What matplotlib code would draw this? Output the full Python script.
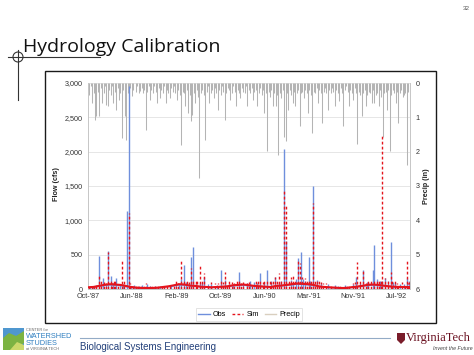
import numpy as np
import pandas as pd
import matplotlib
matplotlib.use('Agg')
import matplotlib.pyplot as plt
from matplotlib.lines import Line2D
from matplotlib.patches import Rectangle, Ellipse, Polygon

# ---------------- data ----------------
start = pd.Timestamp('1987-10-01')
x_tick_days = [0, 250, 500, 750, 1000, 1250, 1500, 1750]
x_tick_labels = ["Oct-'87", "Jun-'88", "Feb-'89", "Oct-'89", "Jun-'90",
                 "Mar-'91", "Nov-'91", "Jul-'92"]
flow_ticks = [0, 500, 1000, 1500, 2000, 2500, 3000]
precip_ticks = [0, 1, 2, 3, 4, 5, 6]

# monthly base flow (cfs), Oct-87 .. Oct-92
obs_base = [20, 25, 40, 50, 60, 55, 50, 35, 25, 15, 12, 12,
            12, 15, 25, 35, 45, 60, 55, 45, 40, 30, 25, 20,
            25, 30, 35, 45, 50, 55, 45, 40, 35, 30, 25, 40,
            45, 55, 60, 70, 65, 60, 50, 35, 25, 20, 15, 12,
            12, 20, 30, 40, 50, 55, 50, 45, 35, 30, 25, 25, 25]
sim_base = [25, 30, 45, 60, 70, 65, 60, 45, 30, 20, 15, 15,
            15, 20, 30, 40, 55, 70, 65, 50, 45, 35, 30, 25,
            30, 35, 40, 55, 60, 65, 55, 45, 40, 35, 30, 45,
            50, 60, 70, 80, 75, 70, 60, 40, 30, 25, 20, 15,
            15, 25, 35, 45, 60, 65, 60, 50, 40, 35, 30, 30, 30]

# storm peaks (day since 1-Oct-1987, cfs)
obs_peak_day = [30, 61, 87, 114, 129, 158, 180, 219, 232, 260,
                304, 333, 380, 409, 470, 514, 527, 544, 570, 586,
                595, 633, 660, 700, 753, 778, 820, 856, 900, 919,
                941, 976, 1017, 1061, 1082, 1111, 1120, 1164, 1189, 1208,
                1230, 1252, 1274, 1299, 1360, 1400, 1455, 1500, 1522, 1560,
                1590, 1617, 1622, 1640, 1670, 1687, 1716, 1740, 1769, 1807,
                1822]
obs_peak_flow = [50, 481, 155, 554, 195, 155, 80, 1138, 2950, 60,
                 60, 70, 40, 50, 50, 80, 150, 350, 90, 470,
                 617, 90, 170, 70, 282, 130, 80, 253, 90, 120,
                 100, 229, 277, 180, 100, 2042, 700, 80, 447, 545,
                 120, 470, 1493, 130, 80, 60, 60, 70, 180, 277,
                 100, 277, 642, 150, 110, 160, 690, 90, 80, 160,
                 110]
obs_small_day = [10, 45, 75, 100, 140, 200, 245, 290, 350, 430,
                 500, 555, 610, 645, 680, 730, 800, 880, 960, 1000,
                 1040, 1095, 1150, 1178, 1220, 1260, 1320, 1420, 1540, 1580,
                 1655, 1700, 1730, 1790]
obs_small_flow = [40, 60, 80, 70, 90, 70, 50, 40, 40, 50,
                  60, 100, 80, 90, 70, 60, 70, 70, 90, 100,
                  110, 120, 130, 150, 140, 120, 90, 50, 90, 100,
                  120, 110, 100, 70]

sim_peak_day = [20, 45, 61, 100, 114, 129, 145, 170, 190, 205,
                232, 253, 270, 300, 329, 350, 380, 418, 450, 485,
                500, 527, 544, 560, 586, 610, 633, 660, 700, 720,
                753, 778, 800, 830, 856, 880, 900, 950, 976, 1000,
                1017, 1040, 1061, 1082, 1113, 1124, 1140, 1164, 1189, 1200,
                1230, 1252, 1274, 1300, 1322, 1350, 1400, 1455, 1480, 1500,
                1527, 1560, 1590, 1622, 1650, 1670, 1687, 1700, 1716, 1740,
                1760, 1780, 1807, 1822]
sim_peak_flow = [60, 70, 200, 90, 545, 120, 110, 80, 404, 120,
                 1100, 80, 50, 40, 90, 50, 45, 70, 60, 60,
                 110, 413, 150, 130, 300, 120, 360, 229, 100, 90,
                 110, 253, 110, 90, 120, 100, 90, 110, 140, 120,
                 140, 100, 180, 229, 1420, 1225, 140, 204, 423, 374,
                 160, 150, 1250, 120, 100, 90, 60, 70, 70, 90,
                 400, 277, 120, 150, 130, 2222, 155, 140, 253, 120,
                 70, 100, 408, 100]
sim_small_day = [8, 35, 75, 90, 138, 155, 240, 285, 315, 365,
                 395, 430, 465, 510, 575, 597, 620, 645, 680, 740,
                 765, 790, 815, 845, 870, 915, 930, 965, 990, 1030,
                 1050, 1070, 1095, 1150, 1175, 1215, 1240, 1262, 1285, 1310,
                 1335, 1380, 1430, 1470, 1515, 1545, 1575, 1605, 1640, 1660,
                 1725, 1750, 1795, 1815]
sim_small_flow = [50, 80, 110, 100, 90, 130, 90, 45, 50, 40,
                  50, 55, 70, 90, 100, 150, 110, 120, 80, 90,
                  100, 80, 100, 110, 90, 100, 80, 120, 100, 120,
                  110, 130, 150, 170, 150, 180, 130, 140, 150, 110,
                  90, 60, 50, 60, 100, 110, 90, 110, 120, 110,
                  130, 90, 80, 90]

# precipitation (in), 8-day totals from 1-Oct-1987
precip_in = [0.2, 0.35, 0.1, 0.58, 0.3, 1.07, 0.97, 0.25, 0.97, 0.15,
             0.58, 0.3, 0.1, 0.63, 0.68, 0.2, 0.35, 0.1, 0.58, 0.25,
             0.78, 0.15, 0.49, 0.3, 1.6, 0.2, 0.97, 1.65, 0.3, 0.39,
             0.15, 0.39, 0.2, 0.0, 0.25, 0.1, 0.3, 0.24, 0.15, 0.3,
             0.2, 1.36, 0.25, 0.1, 0.49, 0.2, 0.3, 0.1, 0.25, 0.58,
             0.15, 0.44, 0.2, 0.3, 0.1, 0.58, 0.2, 0.3, 0.44, 0.15,
             0.25, 0.1, 0.3, 0.49, 0.2, 0.35, 1.8, 0.25, 0.3, 0.68,
             0.2, 0.88, 0.35, 1.12, 0.92, 0.3, 0.58, 0.2, 0.4, 2.77,
             0.3, 0.2, 0.35, 1.65, 0.25, 0.1, 0.58, 0.3, 0.2, 0.44,
             0.15, 0.3, 0.78, 0.2, 0.35, 0.1, 0.25, 1.07, 0.3, 0.15,
             0.2, 0.49, 0.3, 0.1, 0.25, 0.68, 0.2, 0.3, 0.44, 0.15,
             0.25, 0.3, 0.1, 0.68, 0.2, 0.3, 0.15, 0.49, 0.25, 0.2,
             0.68, 0.3, 0.15, 0.35, 0.2, 0.88, 0.3, 1.99, 0.25, 0.4,
             0.2, 0.68, 0.3, 0.68, 0.35, 2.09, 0.3, 0.45, 0.2, 1.56,
             1.7, 0.3, 0.78, 0.2, 0.35, 0.58, 0.25, 0.68, 0.3, 0.2,
             1.26, 0.3, 0.25, 0.44, 0.2, 0.3, 0.88, 0.2, 0.35, 1.46,
             0.25, 0.3, 0.15, 0.58, 0.2, 0.3, 1.17, 0.25, 0.15, 0.3,
             0.78, 0.2, 0.3, 0.15, 0.25, 0.68, 0.2, 0.3, 0.53, 0.15,
             0.3, 1.26, 0.2, 0.1, 0.25, 0.68, 0.2, 0.3, 0.49, 0.15,
             0.3, 1.77, 0.25, 0.35, 0.97, 0.3, 0.2, 0.68, 0.35, 0.25,
             0.3, 0.58, 0.2, 0.58, 0.35, 0.3, 0.68, 0.2, 0.4, 1.56,
             0.3, 0.25, 0.78, 0.2, 1.99, 0.35, 0.2, 0.3, 0.58, 0.25,
             1.17, 0.3, 0.2, 0.4, 0.35, 0.3, 2.38, 0.25, 1.07]

base_days = (pd.date_range(start, periods=len(obs_base), freq='MS') - start).days
precip_days = (pd.date_range(start, periods=len(precip_in), freq='8D') - start).days

# ---------------- figure ----------------
W, H = 474, 355
def fx(x): return x / W
def fy(y): return 1 - y / H

fig = plt.figure(figsize=(4.74, 3.55), dpi=100)
fig.patch.set_facecolor('white')
SANS = ['Liberation Sans', 'DejaVu Sans']

C_OBS = '#6f8fdc'
C_SIM = '#e5141c'
C_PRE = '#b4b4b4'
C_AX = '#c6c6c6'
DOT = (0, (2.0, 1.6))

# chart frame
fig.patches.append(Rectangle((fx(45), fy(323)), fx(436) - fx(45), fy(71) - fy(323),
                             transform=fig.transFigure, fill=False,
                             edgecolor='#1a1a1a', lw=1.0))

ax = fig.add_axes([fx(88), fy(289), fx(410) - fx(88), fy(83) - fy(289)])
ax2 = ax.twinx()
ax.set_zorder(ax2.get_zorder() + 1)
ax.patch.set_visible(False)

# precipitation (hanging bars on inverted right axis)
ax2.vlines(precip_days, 0, precip_in, color=C_PRE, lw=0.75)
ax2.set_ylim(6, 0)
ax2.set_yticks(precip_ticks)
ax2.set_yticklabels([str(v) for v in precip_ticks], family=SANS)

# horizontal gridlines at flow ticks (drawn behind the data)
for v in flow_ticks[1:]:
    ax2.axhline(6 - v / 500, color='#e2e2e2', lw=0.6, zorder=0)

# observed flow
ax.plot(base_days, obs_base, color=C_OBS, lw=1.0, zorder=2)
ax.vlines(obs_peak_day, 0, obs_peak_flow, color=C_OBS, lw=1.0, zorder=2)
ax.vlines(obs_small_day, 0, obs_small_flow, color=C_OBS, lw=0.9, zorder=2)
# simulated flow
ax.plot(base_days, sim_base, color=C_SIM, lw=1.5, zorder=3)
ax.vlines(sim_peak_day, 0, sim_peak_flow, color=C_SIM, lw=1.0,
          linestyles=[DOT], zorder=3)
ax.vlines(sim_small_day, 0, sim_small_flow, color=C_SIM, lw=1.0,
          linestyles=[DOT], zorder=3)

ax.set_xlim(0, 1826)
ax.set_ylim(0, 3000)
ax.set_yticks(flow_ticks)
ax.set_yticklabels([f'{v:,}' for v in flow_ticks], family=SANS)
ax.set_xticks(x_tick_days)
ax.set_xticklabels(x_tick_labels, family=SANS)

for a in (ax, ax2):
    a.tick_params(length=0, labelsize=5.2, colors='#333333')
    for s in a.spines.values():
        s.set_color(C_AX)
        s.set_linewidth(0.6)
    a.spines['top'].set_visible(False)
ax.tick_params(axis='y', pad=4)
ax.tick_params(axis='x', pad=3)
ax2.tick_params(axis='y', pad=4)

fig.text(fx(56), fy(184), 'Flow (cfs)', rotation=90, ha='center', va='center',
         fontsize=5.2, fontweight='bold', family=SANS, color='#222222')
fig.text(fx(427), fy(186), 'Precip (in)', rotation=90, ha='center', va='center',
         fontsize=5.2, fontweight='bold', family=SANS, color='#222222')

handles = [Line2D([], [], color=C_OBS, lw=1.0),
           Line2D([], [], color=C_SIM, lw=1.0, ls=DOT),
           Line2D([], [], color='#d9cfbf', lw=1.0)]
leg = fig.legend(handles, ['Obs', 'Sim', 'Precip'], loc='center',
                 bbox_to_anchor=(fx(249), fy(314.5)), ncol=3,
                 prop={'family': SANS, 'size': 5.2}, frameon=True,
                 fancybox=False, edgecolor='#d6d6d6', handlelength=1.6,
                 handletextpad=0.4, columnspacing=0.8, borderpad=0.35)
leg.get_frame().set_linewidth(0.6)

# ---------------- slide decorations ----------------
fig.text(fx(23), fy(52), 'Hydrology Calibration', fontsize=14,
         family=['Open Sans', 'DejaVu Sans'], ha='left', va='baseline',
         color='#111111')
fig.text(fx(466), fy(8), '32', fontsize=4.5, ha='center', va='center',
         family=SANS, color='#555555')

fig.lines.append(Line2D([fx(8), fx(100)], [fy(57), fy(57)],
                        transform=fig.transFigure, color='#333333', lw=0.8))
fig.lines.append(Line2D([fx(18), fx(18)], [fy(50), fy(100)],
                        transform=fig.transFigure, color='#333333', lw=0.8))
fig.patches.append(Ellipse((fx(18), fy(57)), 10 / W, 10 / H,
                           transform=fig.transFigure, fill=False,
                           edgecolor='#333333', lw=0.8))

# footer
fig.lines.append(Line2D([fx(80), fx(390)], [fy(338), fy(338)],
                        transform=fig.transFigure, color='#93abc6', lw=0.8))
fig.text(fx(80), fy(347), 'Biological Systems Engineering', fontsize=7,
         family=SANS, color='#23407a', ha='left', va='center')

# watershed logo
fig.patches.append(Rectangle((fx(3), fy(350)), 21 / W, 22 / H,
                             transform=fig.transFigure, color='#4f97cf', lw=0))
fig.patches.append(Polygon([(fx(3), fy(350)), (fx(3), fy(338)), (fx(9), fy(333)),
                            (fx(16), fy(336)), (fx(24), fy(331)), (fx(24), fy(343)),
                            (fx(15), fy(350))],
                           closed=True, transform=fig.transFigure,
                           color='#7cb342', lw=0))
fig.patches.append(Polygon([(fx(10), fy(350)), (fx(17), fy(342)), (fx(24), fy(345)),
                            (fx(24), fy(350))],
                           closed=True, transform=fig.transFigure,
                           color='#cbd96a', lw=0))
fig.text(fx(26), fy(330), 'CENTER for', fontsize=2.8, family=SANS,
         color='#666666', va='center')
fig.text(fx(26), fy(337), 'WATERSHED', fontsize=5.3, family=SANS,
         color='#2f7fc0', va='center')
fig.text(fx(26), fy(343.5), 'STUDIES', fontsize=5.3, family=SANS,
         color='#2f7fc0', va='center')
fig.text(fx(26), fy(349), 'at VIRGINIA TECH', fontsize=2.8, family=SANS,
         color='#666666', va='center')

# Virginia Tech logo
fig.patches.append(Polygon([(fx(397), fy(333)), (fx(405), fy(333)), (fx(405), fy(340)),
                            (fx(401), fy(344)), (fx(397), fy(340))],
                           closed=True, transform=fig.transFigure,
                           color='#7a1c2a', lw=0))
fig.text(fx(406), fy(338.5), 'VirginiaTech', fontsize=9,
         family=['Liberation Serif', 'DejaVu Serif'], color='#6a1020',
         ha='left', va='center')
fig.text(fx(473), fy(349), 'Invent the Future', fontsize=3.8, style='italic',
         family=SANS, color='#444444', ha='right', va='center')

fig.savefig('out.png', dpi=100, facecolor='white')
